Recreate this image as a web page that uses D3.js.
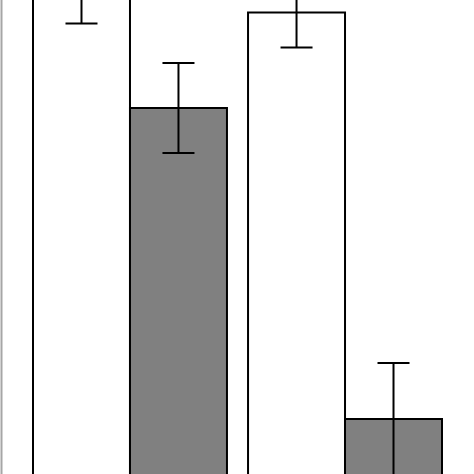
<!DOCTYPE html>
<html>
<head>
<meta charset="utf-8">
<script src="https://cdn.jsdelivr.net/npm/d3@7"></script>
<style>
  html, body { margin: 0; padding: 0; background: #fff; }
  svg { display: block; }
</style>
</head>
<body>
<div id="chart"></div>
<script>
// groups and series
const groups = ["A", "B"];
const series = ["control", "treated"];
const fills = ["#ffffff", "#808080"];

// bar means and error (half-width), per group, in series order
const meansA = [101, 76.4];
const meansB = [95.5, 14.2];
const errA = [7.7, 9];
const errB = [7, 11.2];

const width = 474, height = 474;

const data = [];
groups.forEach((g, gi) => {
    const means = gi === 0 ? meansA : meansB;
    const errs = gi === 0 ? errA : errB;
    series.forEach((s, si) => {
        data.push({ group: g, series: s, value: means[si], err: errs[si], fill: fills[si] });
    });
});

const svg = d3.select("#chart")
    .append("svg")
    .attr("width", width)
    .attr("height", height);

// x scales
const x0 = d3.scaleBand()
    .domain(groups)
    .range([33, 442])
    .paddingInner(0.098)
    .paddingOuter(0);

const x1 = d3.scaleBand()
    .domain(series)
    .range([0, x0.bandwidth()])
    .padding(0);

// y scale - chart is cropped, baseline sits below the view
const y = d3.scaleLinear()
    .domain([0, 100])
    .range([490, -10]);

// left axis line (mostly cropped)
svg.append("g")
    .attr("transform", "translate(1,0)")
    .call(d3.axisLeft(y).tickSize(0).tickFormat(""))
    .call(g => g.select(".domain").attr("stroke", "#a6a6a6").attr("stroke-width", 2));

// bars
svg.selectAll("rect.bar")
    .data(data)
    .enter()
    .append("rect")
    .attr("class", "bar")
    .attr("x", d => x0(d.group) + x1(d.series))
    .attr("y", d => y(d.value))
    .attr("width", x1.bandwidth())
    .attr("height", d => y(0) - y(d.value))
    .attr("fill", d => d.fill)
    .attr("stroke", "#000")
    .attr("stroke-width", 2);

// error bars
const capHalf = 16;
const eb = svg.selectAll("g.err")
    .data(data)
    .enter()
    .append("g")
    .attr("class", "err")
    .attr("transform", d => "translate(" + (x0(d.group) + x1(d.series) + x1.bandwidth() / 2) + ",0)");

eb.append("line")
    .attr("y1", d => y(d.value + d.err))
    .attr("y2", d => y(d.value - d.err))
    .attr("stroke", "#000")
    .attr("stroke-width", 2);

eb.append("line")
    .attr("x1", -capHalf).attr("x2", capHalf)
    .attr("y1", d => y(d.value + d.err))
    .attr("y2", d => y(d.value + d.err))
    .attr("stroke", "#000")
    .attr("stroke-width", 2);

eb.append("line")
    .attr("x1", -capHalf).attr("x2", capHalf)
    .attr("y1", d => y(d.value - d.err))
    .attr("y2", d => y(d.value - d.err))
    .attr("stroke", "#000")
    .attr("stroke-width", 2);
</script>
</body>
</html>
